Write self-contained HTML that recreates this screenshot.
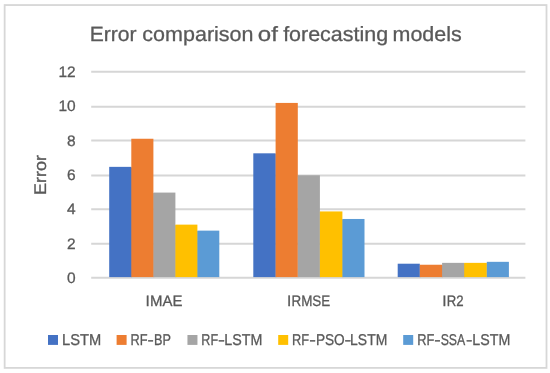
<!DOCTYPE html>
<html>
<head>
<meta charset="utf-8">
<title>Error comparison of forecasting models</title>
<style>
html,body{margin:0;padding:0;background:#fff;}
body{width:550px;height:373px;overflow:hidden;}
svg{display:block;}
text{font-family:"Liberation Sans",sans-serif;fill:#595959;text-rendering:geometricPrecision;stroke:#595959;stroke-width:0.3px;}
</style>
</head>
<body>
<svg width="550" height="373" viewBox="0 0 550 373">
<rect x="0" y="0" width="550" height="373" fill="#ffffff"/>
<rect x="4.65" y="5.05" width="541.85" height="362.85" fill="#ffffff" stroke="#d7d7d7" stroke-width="1.8"/>
<!-- title -->
<text y="41.35" font-size="20.6" stroke-width="0.1"><tspan x="89.72" textLength="46.83" lengthAdjust="spacingAndGlyphs">Error</tspan> <tspan x="142.39" textLength="111.11" lengthAdjust="spacingAndGlyphs">comparison</tspan> <tspan x="257.89" textLength="20.08" lengthAdjust="spacingAndGlyphs">of</tspan> <tspan x="283.15" textLength="104.94" lengthAdjust="spacingAndGlyphs">forecasting</tspan> <tspan x="392.58" textLength="69.10" lengthAdjust="spacingAndGlyphs">models</tspan></text>
<!-- gridlines -->
<g stroke="#d6d6d6" stroke-width="2">
<line x1="91.2" x2="525.4" y1="71.80" y2="71.80"/>
<line x1="91.2" x2="525.4" y1="106.65" y2="106.65"/>
<line x1="91.2" x2="525.4" y1="140.55" y2="140.55"/>
<line x1="91.2" x2="525.4" y1="175.45" y2="175.45"/>
<line x1="91.2" x2="525.4" y1="209.30" y2="209.30"/>
<line x1="91.2" x2="525.4" y1="243.80" y2="243.80"/>
<line x1="91.2" x2="525.4" y1="277.80" y2="277.80"/>
</g>
<!-- y axis labels -->
<g font-size="15.2" text-anchor="end">
<text transform="translate(75.7,77.20) scale(1.02,1)">12</text>
<text transform="translate(75.7,111.48) scale(1.02,1)">10</text>
<text transform="translate(75.7,145.76) scale(1.02,1)">8</text>
<text transform="translate(75.7,180.05) scale(1.02,1)">6</text>
<text transform="translate(75.7,214.33) scale(1.02,1)">4</text>
<text transform="translate(75.7,248.62) scale(1.02,1)">2</text>
<text transform="translate(75.7,282.90) scale(1.02,1)">0</text>
</g>
<!-- y axis title -->
<text transform="translate(45.9,193.6) rotate(-90)" x="-1.48" font-size="16.9" textLength="39.97" lengthAdjust="spacingAndGlyphs">Error</text>
<!-- bars -->
<g>
<rect x="131.1" y="167.36" width="1" height="109.74" fill="#4472c4"/>
<rect x="153.2" y="193.08" width="1" height="84.02" fill="#ed7d31"/>
<rect x="175.2" y="225.13" width="1" height="51.97" fill="#a5a5a5"/>
<rect x="197.2" y="231.13" width="1" height="45.97" fill="#ffc000"/>
<rect x="109.2" y="166.86" width="22.1" height="110.24" fill="#4472c4"/>
<rect x="131.3" y="138.75" width="22.1" height="138.35" fill="#ed7d31"/>
<rect x="153.4" y="192.58" width="22.0" height="84.52" fill="#a5a5a5"/>
<rect x="175.4" y="224.63" width="22.0" height="52.47" fill="#ffc000"/>
<rect x="197.4" y="230.63" width="21.9" height="46.47" fill="#5b9bd5"/>
</g>
<g>
<rect x="275.4" y="153.82" width="1" height="123.28" fill="#4472c4"/>
<rect x="297.6" y="175.76" width="1" height="101.34" fill="#ed7d31"/>
<rect x="319.7" y="211.93" width="1" height="65.17" fill="#a5a5a5"/>
<rect x="342.2" y="219.47" width="1" height="57.63" fill="#ffc000"/>
<rect x="253.3" y="153.32" width="22.3" height="123.78" fill="#4472c4"/>
<rect x="275.6" y="102.92" width="22.2" height="174.18" fill="#ed7d31"/>
<rect x="297.8" y="175.26" width="22.1" height="101.84" fill="#a5a5a5"/>
<rect x="319.9" y="211.43" width="22.5" height="65.67" fill="#ffc000"/>
<rect x="342.4" y="218.97" width="22.1" height="58.13" fill="#5b9bd5"/>
</g>
<g>
<rect x="419.6" y="265.24" width="1" height="11.86" fill="#4472c4"/>
<rect x="441.9" y="265.24" width="1" height="11.86" fill="#ed7d31"/>
<rect x="464.0" y="263.36" width="1" height="13.74" fill="#a5a5a5"/>
<rect x="486.6" y="263.36" width="1" height="13.74" fill="#ffc000"/>
<rect x="397.7" y="263.71" width="22.1" height="13.39" fill="#4472c4"/>
<rect x="419.8" y="264.74" width="22.3" height="12.36" fill="#ed7d31"/>
<rect x="442.1" y="262.86" width="22.1" height="14.24" fill="#a5a5a5"/>
<rect x="464.2" y="262.86" width="22.6" height="14.24" fill="#ffc000"/>
<rect x="486.8" y="261.83" width="22.1" height="15.27" fill="#5b9bd5"/>
</g>
<!-- category labels -->
<text y="305.60" font-size="15.2"><tspan x="145.57" textLength="4.32" lengthAdjust="spacingAndGlyphs">I</tspan><tspan x="150.02" textLength="32.42" lengthAdjust="spacingAndGlyphs">MAE</tspan></text>
<text y="305.60" font-size="15.2"><tspan x="287.07" textLength="4.32" lengthAdjust="spacingAndGlyphs">I</tspan><tspan x="291.45" textLength="38.83" lengthAdjust="spacingAndGlyphs">RMSE</tspan></text>
<text y="305.60" font-size="15.2"><tspan x="442.37" textLength="4.32" lengthAdjust="spacingAndGlyphs">I</tspan><tspan x="446.67" textLength="16.90" lengthAdjust="spacingAndGlyphs">R2</tspan></text>
<!-- legend -->
<g>
<rect x="48.00" y="335" width="10" height="9.9" fill="#4472c4"/>
<rect x="116.60" y="335" width="10" height="9.9" fill="#ed7d31"/>
<rect x="187.45" y="335" width="10" height="9.9" fill="#a5a5a5"/>
<rect x="278.20" y="335" width="10" height="9.9" fill="#ffc000"/>
<rect x="403.20" y="335" width="10" height="9.9" fill="#5b9bd5"/>
</g>
<text y="344.90" font-size="15.6"><tspan x="61.99" textLength="39.21" lengthAdjust="spacingAndGlyphs">LSTM</tspan></text>
<text y="344.90" font-size="15.6"><tspan x="130.55" textLength="17.06" lengthAdjust="spacingAndGlyphs">RF</tspan><tspan x="147.56" textLength="6.27" lengthAdjust="spacingAndGlyphs">-</tspan><tspan x="153.96" textLength="16.91" lengthAdjust="spacingAndGlyphs">BP</tspan></text>
<text y="344.90" font-size="15.6"><tspan x="201.37" textLength="16.73" lengthAdjust="spacingAndGlyphs">RF</tspan><tspan x="217.97" textLength="6.96" lengthAdjust="spacingAndGlyphs">-</tspan><tspan x="224.33" textLength="38.04" lengthAdjust="spacingAndGlyphs">LSTM</tspan></text>
<text y="344.90" font-size="15.6"><tspan x="292.05" textLength="17.06" lengthAdjust="spacingAndGlyphs">RF</tspan><tspan x="309.21" textLength="6.68" lengthAdjust="spacingAndGlyphs">-</tspan><tspan x="315.88" textLength="28.88" lengthAdjust="spacingAndGlyphs">PSO</tspan><tspan x="344.51" textLength="6.68" lengthAdjust="spacingAndGlyphs">-</tspan><tspan x="350.11" textLength="37.13" lengthAdjust="spacingAndGlyphs">LSTM</tspan></text>
<text y="344.90" font-size="15.6"><tspan x="417.14" textLength="17.17" lengthAdjust="spacingAndGlyphs">RF</tspan><tspan x="434.24" textLength="6.41" lengthAdjust="spacingAndGlyphs">-</tspan><tspan x="440.64" textLength="24.58" lengthAdjust="spacingAndGlyphs">SSA</tspan><tspan x="466.14" textLength="6.41" lengthAdjust="spacingAndGlyphs">-</tspan><tspan x="472.33" textLength="37.93" lengthAdjust="spacingAndGlyphs">LSTM</tspan></text>
</svg>
</body>
</html>
